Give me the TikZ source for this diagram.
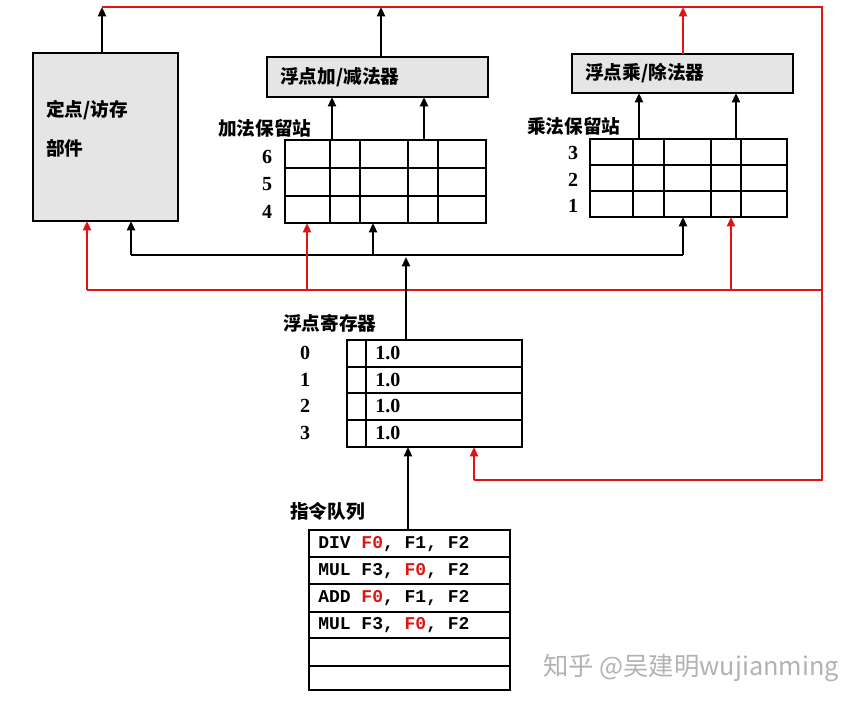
\documentclass[tikz,border=0pt]{standalone}
\usepackage{fontspec}
\setmainfont{Liberation Serif}
\newfontfamily\cjk{Noto Sans CJK SC}
\newfontfamily\mono{Liberation Mono}
\usetikzlibrary{arrows.meta}
\definecolor{rd}{RGB}{225,20,20}
\tikzset{
 bk/.style={line width=1.6pt,-{Triangle[length=7pt,width=6pt]}},
 rdl/.style={line width=1.6pt,rd,-{Triangle[length=7pt,width=6pt]}},
 rdn/.style={line width=1.6pt,rd},
 unit/.style={draw,line width=1.1pt,fill=gray!20,inner sep=0},
 lbl/.style={font=\cjk\bfseries\fontsize{14}{14}\selectfont,anchor=west,inner sep=0},
 num/.style={font=\bfseries\fontsize{15}{15}\selectfont,inner sep=0},
 grid/.style={line width=1.2pt}
}
\begin{document}
\begin{tikzpicture}[x=0.75pt,y=-0.75pt]
\useasboundingbox (0,0) rectangle (865,706);
% units
\draw[unit] (33,53) rectangle (178,221);
\node[lbl] (fx1) at (46,110) {定点/访存};
\node[lbl] (fx2) at (46,148) {部件};
\draw[unit] (267,57) rectangle (488,97);
\node[lbl] (add) at (280,77) {浮点加/减法器};
\draw[unit] (572,54) rectangle (793,93);
\node[lbl] (mul) at (585,73) {浮点乘/除法器};
% top red bus
\draw[rdn] (102,7) -- (822,7) -- (822,480) -- (474,480);
\draw[rdn] (87,290) -- (822,290);
\draw[bk] (102,53) -- (102,7);
\draw[bk] (381,57) -- (381,7);
\draw[rdl] (683,54) -- (683,7);
% add RS
\draw[grid] (285,140) rectangle (486,223);
\foreach \x in {330,360,408,438} \draw[grid] (\x,140) -- (\x,223);
\foreach \y in {168,196} \draw[grid] (285,\y) -- (486,\y);
\node[num] at (267,157) {6};
\node[num] at (267,184) {5};
\node[num] at (267,212) {4};
\node[lbl] (ars) at (218,128) {加法保留站};
\draw[bk] (332,140) -- (332,97);
\draw[bk] (424,140) -- (424,97);
% mul RS
\draw[grid] (590,139) rectangle (787,217);
\foreach \x in {633,664,711,741} \draw[grid] (\x,139) -- (\x,217);
\foreach \y in {165,191} \draw[grid] (590,\y) -- (787,\y);
\node[num] at (573,153) {3};
\node[num] at (573,180) {2};
\node[num] at (573,206) {1};
\node[lbl] (mrs) at (527,126) {乘法保留站};
\draw[bk] (639,139) -- (639,93);
\draw[bk] (736,139) -- (736,93);
% black bus
\draw[line width=2pt] (131,255) -- (683,255);
\draw[bk] (131,255) -- (131,221);
\draw[bk] (373,255) -- (373,223);
\draw[bk] (683,255) -- (683,217);
\draw[bk] (406,340) -- (406,257);
% red arrows up
\draw[rdl] (87,290) -- (87,221);
\draw[rdl] (307,290) -- (307,223);
\draw[rdl] (731,290) -- (731,217);
% registers
\node[lbl] (regl) at (283,323) {浮点寄存器};
\draw[grid] (347,340) rectangle (522,447);
\draw[grid] (366,340) -- (366,447);
\foreach \y in {367,393,420} \draw[grid] (347,\y) -- (522,\y);
\foreach \i/\y in {0/353,1/380,2/406,3/433}{
 \node[num] at (305,\y) {\i};
 \node[num,anchor=west] at (375,\y) {1.0};}
\draw[rdl] (474,480) -- (474,447);
% queue
\node[lbl] (ql) at (290,511) {指令队列};
\draw[bk] (408,530) -- (408,447);
\draw[grid] (309,530) rectangle (510,690);
\foreach \y in {557,584,612,638,666} \draw[grid] (309,\y) -- (510,\y);
\tikzset{ins/.style={font=\mono\bfseries\fontsize{13.5}{13.5}\selectfont,anchor=west,inner sep=0}}
\newcommand\rf[1]{\textcolor{rd}{#1}}
\node[ins] at (318,544) {DIV \rf{F0}, F1, F2};
\node[ins] at (318,571) {MUL F3, \rf{F0}, F2};
\node[ins] at (318,598) {ADD \rf{F0}, F1, F2};
\node[ins] at (318,625) {MUL F3, \rf{F0}, F2};
% watermark
\node[font=\cjk\fontsize{19}{19}\selectfont,text=gray!60,anchor=west,inner sep=0] at (543,668) {知乎 @吴建明wujianming};
\end{tikzpicture}
\end{document}
